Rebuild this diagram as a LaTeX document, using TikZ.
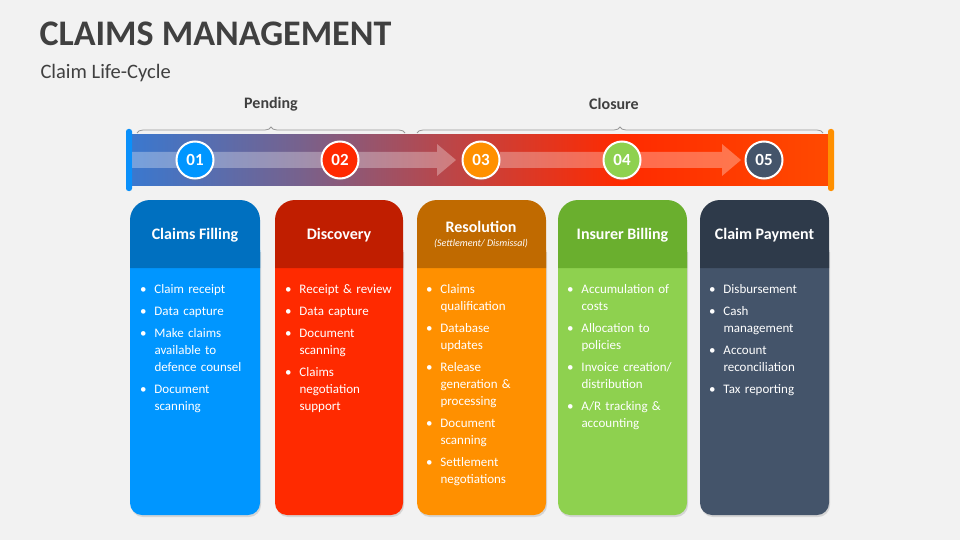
\documentclass[tikz,border=0pt]{standalone}
\usepackage{fontspec}
\setmainfont{Carlito}
\usetikzlibrary{decorations.pathreplacing,shadows}
\definecolor{bg}{HTML}{F2F2F2}
\definecolor{ttl}{HTML}{404040}
\definecolor{hA}{HTML}{0070C0}\definecolor{bA}{HTML}{0096FF}
\definecolor{hB}{HTML}{C01E00}\definecolor{bB}{HTML}{FF2A00}
\definecolor{hC}{HTML}{C06A00}\definecolor{bC}{HTML}{FF9000}
\definecolor{hD}{HTML}{6AAF2E}\definecolor{bD}{HTML}{8ED14F}
\definecolor{hE}{HTML}{2E3A4A}\definecolor{bE}{HTML}{44546A}
\definecolor{g0}{HTML}{0A90FA}\definecolor{g1}{HTML}{2A7EE0}
\definecolor{g2}{HTML}{76628E}\definecolor{g3}{HTML}{C9403A}
\definecolor{g4}{HTML}{FF2A00}\definecolor{g5}{HTML}{FF5500}
\pgfdeclarehorizontalshading{barshade}{100bp}{color(0bp)=(g0);color(22bp)=(g1);color(37bp)=(g2);color(50bp)=(g3);color(60bp)=(g4);color(80bp)=(g5);color(100bp)=(bC)}
\newcommand{\itm}[1]{\par\hangindent=1.1em\hangafter=1\noindent\makebox[1.1em][l]{\textbullet}#1\par\vspace{5pt}}
\tikzset{
  num/.style={circle,draw=white,line width=2pt,minimum size=37pt,inner sep=0pt,text=white,font=\bfseries\fontsize{17}{17}\selectfont,drop shadow={opacity=0.3,shadow xshift=0pt,shadow yshift=-2pt}},
  hdr/.style={text=white,font=\bfseries\fontsize{16}{17}\selectfont,align=center},
  body/.style={text=white,font=\fontsize{13}{17}\selectfont,text width=108pt,anchor=north west,inner sep=0pt,align=left},
  brace/.style={draw=gray!80,line width=0.8pt,decorate,decoration={brace,amplitude=6pt}},
}
\begin{document}
\begin{tikzpicture}[x=1pt,y=-1pt]
\fill[bg] (0,0) rectangle (960,540);
\useasboundingbox (0,0) rectangle (960,540);
\node[anchor=west,text=ttl,font=\bfseries\fontsize{36}{36}\selectfont] (title) at (36,34) {CLAIMS MANAGEMENT};
\node[anchor=west,text=ttl,font=\fontsize{20.5}{20}\selectfont] (sub) at (37,73) {Claim Life-Cycle};
% bar
\shade[shading=barshade] (128,135) rectangle (832,185);
\fill[g0,rounded corners=2.5pt] (126,129) rectangle (132,191);
\fill[bC,rounded corners=2.5pt] (828,129) rectangle (834,191);
\fill[white,opacity=0.3] (132,152) -- (437,152) -- (437,144) -- (456,160) -- (437,176) -- (437,168) -- (132,168) -- cycle;
\fill[white,opacity=0.3] (500,152) -- (722,152) -- (722,144) -- (741,160) -- (722,176) -- (722,168) -- (500,168) -- cycle;
\draw[brace] (137,133) -- (405,133);
\draw[brace] (417,133) -- (823,133);
\node[text=ttl,font=\bfseries\fontsize{16}{15}\selectfont] (pend) at (271,104) {Pending};
\node[text=ttl,font=\bfseries\fontsize{16}{15}\selectfont] (clos) at (614,104) {Closure};
\node[num,fill=bA] (n1) at (195,160) {01};
\node[num,fill=bB] (n2) at (340,160) {02};
\node[num,fill=bC] (n3) at (481,160) {03};
\node[num,fill=bD] (n4) at (622,160) {04};
\node[num,fill=bE] (n5) at (764,160) {05};
% cards
\foreach \x/\w/\h/\b/\t in {130/130/hA/bA/Claims Filling,275/128/hB/bB/Discovery,417/129/hC/bC/,558/129/hD/bD/Insurer Billing,700/129/hE/bE/Claim Payment}{
  \fill[\b,drop shadow={opacity=0.25,shadow xshift=1pt,shadow yshift=-2pt}] (\x,250) [rounded corners=12pt] -- (\x,515) -- (\x+\w,515) [sharp corners] -- (\x+\w,250) -- cycle;
  \fill[\h] (\x,268) [rounded corners=20pt] -- (\x,200) -- (\x+\w,200) [sharp corners] -- (\x+\w,268) -- cycle;
  \node[hdr] at (\x+\w/2,235) {\t};
}
\node[hdr] (h3) at (481,235) {Resolution\\[-3pt]{\mdseries\itshape\fontsize{10}{11}\selectfont(Settlement/ Dismissal)}};
\begin{scope}[every node/.append style={execute at begin node={\hyphenpenalty=10000\exhyphenpenalty=10000\raggedright}}]
\node[body] (b1) at (140,276) {\itm{Claim receipt}\itm{Data capture}\itm{Make claims available to defence counsel}\itm{Document scanning}};
\node[body] (b2) at (285,276) {\itm{Receipt \& review}\itm{Data capture}\itm{Document scanning}\itm{Claims negotiation support}};
\node[body] (b3) at (426,276) {\itm{Claims qualification}\itm{Database updates}\itm{Release generation \& processing}\itm{Document scanning}\itm{Settlement negotiations}};
\node[body] (b4) at (567,276) {\itm{Accumulation of costs}\itm{Allocation to policies}\itm{Invoice creation/ distribution}\itm{A/R tracking \& accounting}};
\node[body] (b5) at (709,276) {\itm{Disbursement}\itm{Cash management}\itm{Account reconciliation}\itm{Tax reporting}};
\end{scope}
\end{tikzpicture}
\end{document}
